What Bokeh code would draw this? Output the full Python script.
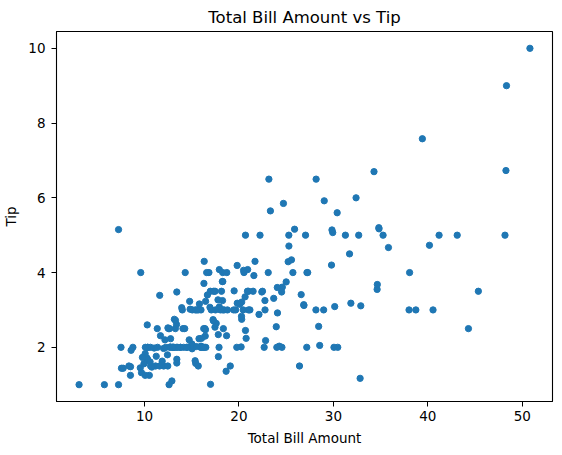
from bokeh.plotting import figure
from bokeh.models import Range1d, FixedTicker
from bokeh.embed import file_html
from bokeh.resources import INLINE

total_bill = [16.99,10.34,21.01,23.68,24.59,25.29,8.77,26.88,15.04,14.78,10.27,35.26,15.42,18.43,14.83,21.58,10.33,16.29,16.97,20.65,
17.92,20.29,15.77,39.42,19.82,17.81,13.37,12.69,21.7,19.65,9.55,18.35,15.06,20.69,17.78,24.06,16.31,16.93,18.69,31.27,
16.04,17.46,13.94,9.68,30.4,18.29,22.23,32.4,28.55,18.04,12.54,10.29,34.81,9.94,25.56,19.49,38.01,26.41,11.24,48.27,
20.29,13.81,11.02,18.29,17.59,20.08,16.45,3.07,20.23,15.01,12.02,17.07,26.86,25.28,14.73,10.51,17.92,27.2,22.76,17.29,
19.44,16.66,10.07,32.68,15.98,34.83,13.03,18.28,24.71,21.16,28.97,22.49,5.75,16.32,22.75,40.17,27.28,12.03,21.01,12.46,
11.35,15.38,44.3,22.42,20.92,15.36,20.49,25.21,18.24,14.31,14.0,7.25,38.07,23.95,25.71,17.31,29.93,10.65,12.43,24.08,
11.69,13.42,14.26,15.95,12.48,29.8,8.52,14.52,11.38,22.82,19.08,20.27,11.17,12.26,18.26,8.51,10.33,14.15,16.0,13.16,
17.47,34.3,41.19,27.05,16.43,8.35,18.64,11.87,9.78,7.51,14.07,13.13,17.26,24.55,19.77,29.85,48.17,25.0,13.39,16.49,
21.5,12.66,16.21,13.81,17.51,24.52,20.76,31.71,10.59,10.63,50.81,15.81,7.25,31.85,16.82,32.9,17.89,14.48,9.6,34.63,
34.65,23.33,45.35,23.17,40.55,20.69,20.9,30.46,18.15,23.1,15.69,19.81,28.44,15.48,16.58,7.56,10.34,43.11,13.0,13.51,
18.71,12.74,13.0,16.4,20.53,16.47,26.59,38.73,24.27,12.76,30.06,25.89,48.33,13.27,28.17,12.9,28.15,11.59,7.74,30.14,
12.16,13.42,8.58,15.98,13.42,16.27,10.09,20.45,13.28,22.12,24.01,15.69,11.61,10.77,15.53,10.07,12.6,32.83,35.83,29.03,
27.18,22.67,17.82,18.78]

tip = [1.01,1.66,3.5,3.31,3.61,4.71,2.0,3.12,1.96,3.23,1.71,5.0,1.57,3.0,3.02,3.92,1.67,3.71,3.5,3.35,
4.08,2.75,2.23,7.58,3.18,2.34,2.0,2.0,4.3,3.0,1.45,2.5,3.0,2.45,3.27,3.6,2.0,3.07,2.31,5.0,
2.24,2.54,3.06,1.32,5.6,3.0,5.0,6.0,2.05,3.0,2.5,2.6,5.2,1.56,4.34,3.51,3.0,1.5,1.76,6.73,
3.21,2.0,1.98,3.76,2.64,3.15,2.47,1.0,2.01,2.09,1.97,3.0,3.14,5.0,2.2,1.25,3.08,4.0,3.0,2.71,
3.0,3.4,1.83,5.0,2.03,5.17,2.0,4.0,5.85,3.0,3.0,3.5,1.0,4.3,3.25,4.73,4.0,1.5,3.0,1.5,
2.5,3.0,2.5,3.48,4.08,1.64,4.06,4.29,3.76,4.0,3.0,1.0,4.0,2.55,4.0,3.5,5.07,1.5,1.8,2.92,
2.31,1.68,2.5,2.0,2.52,4.2,1.48,2.0,2.0,2.18,1.5,2.83,1.5,2.0,3.25,1.25,2.0,2.0,2.0,2.75,
3.5,6.7,5.0,5.0,2.3,1.5,1.36,1.63,1.73,2.0,2.5,2.0,2.74,2.0,2.0,5.14,5.0,3.75,2.61,2.0,
3.5,2.5,2.0,2.0,3.0,3.48,2.24,4.5,1.61,2.0,10.0,3.16,5.15,3.18,4.0,3.11,2.0,2.0,4.0,3.55,
3.68,5.65,3.5,6.5,3.0,5.0,3.5,2.0,3.5,4.0,1.5,4.19,2.56,2.02,4.0,1.44,2.0,5.0,2.0,2.0,
4.0,2.01,2.0,2.5,4.0,3.23,3.41,3.0,2.03,2.23,2.0,5.16,9.0,2.5,6.5,1.1,3.0,1.5,1.44,3.09,
2.2,3.48,1.92,3.0,1.58,2.5,2.0,3.0,2.72,2.88,2.0,3.0,3.39,1.47,3.0,1.25,1.0,1.17,4.67,5.92,
2.0,2.0,1.75,3.0]

x_ticks = [10, 20, 30, 40, 50]
y_ticks = [2, 4, 6, 8, 10]

p = figure(width=554, height=440, output_backend="svg", toolbar_location=None,
           frame_width=496, frame_height=370,
           x_range=Range1d(0.68, 53.2), y_range=Range1d(0.55, 10.45),
           title="Total Bill Amount vs Tip")
p.min_border_left = 49
p.min_border_top = 24
p.min_border_right = 8
p.min_border_bottom = 46

p.title.align = "center"
p.title.text_font = "DejaVu Sans"
p.title.text_font_size = "16.5px"
p.title.text_font_style = "normal"
p.title.text_color = "black"

p.grid.visible = False
p.outline_line_color = "black"
p.outline_line_width = 1.1
p.background_fill_color = "white"
p.border_fill_color = "white"

for ax in (p.xaxis, p.yaxis):
    ax.axis_line_color = "black"
    ax.major_tick_line_color = "black"
    ax.major_tick_in = 0
    ax.major_tick_out = 5
    ax.minor_tick_line_color = None
    ax.major_label_text_font = "DejaVu Sans"
    ax.major_label_text_font_size = "13.5px"
    ax.major_label_text_color = "black"
    ax.axis_label_text_font = "DejaVu Sans"
    ax.axis_label_text_font_size = "13.5px"
    ax.axis_label_text_font_style = "normal"
    ax.axis_label_text_color = "black"

p.xaxis.ticker = FixedTicker(ticks=x_ticks)
p.yaxis.ticker = FixedTicker(ticks=y_ticks)
p.xaxis.axis_label = "Total Bill Amount"
p.yaxis.axis_label = "Tip"
p.xaxis.major_label_standoff = 4
p.yaxis.major_label_standoff = 6
p.xaxis.axis_label_standoff = 6
p.yaxis.axis_label_standoff = 6

p.scatter(total_bill, tip, size=6.3, fill_color="#1f77b4", line_color="#1f77b4")

open("out.html", "w").write(file_html(p, INLINE))
